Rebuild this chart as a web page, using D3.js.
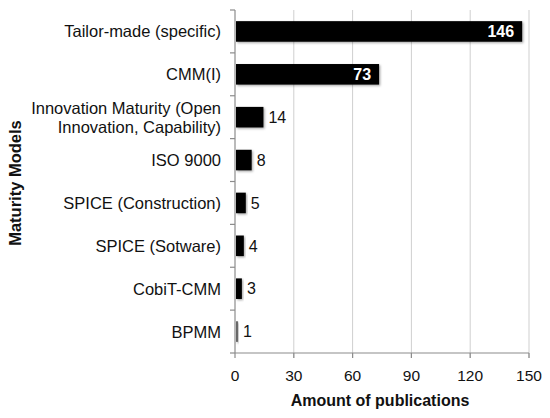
<!DOCTYPE html>
<html><head><meta charset="utf-8">
<script src="https://cdn.jsdelivr.net/npm/d3@7"></script>
<style>body{margin:0;background:#fff}svg{display:block;font-family:"Liberation Sans",Arial,sans-serif}</style>
</head><body>
<svg id="c" width="550" height="418"></svg>
<script>
const categories = ["Tailor-made (specific)", "CMM(I)", "Innovation Maturity (Open Innovation, Capability)", "ISO 9000", "SPICE (Construction)", "SPICE (Sotware)", "CobiT-CMM", "BPMM"];
const labelLines = [["Tailor-made (specific)"], ["CMM(I)"], ["Innovation Maturity (Open", "Innovation, Capability)"], ["ISO 9000"], ["SPICE (Construction)"], ["SPICE (Sotware)"], ["CobiT-CMM"], ["BPMM"]];
const values = [146, 73, 14, 8, 5, 4, 3, 1];
const xTicks = [0, 30, 60, 90, 120, 150];

const svg = d3.select("#c");
const m = {l: 235, r: 21, t: 10, b: 65};
const W = 550, H = 418;
const x = d3.scaleLinear().domain([0, 150]).range([m.l, W - m.r]);
const y = d3.scaleBand().domain(categories).range([m.t, H - m.b]).paddingInner(0.52).paddingOuter(0.26);
const yEdges = d3.scaleLinear().domain([0, categories.length]).range([m.t, H - m.b]);

const defs = svg.append("defs");
const f = defs.append("filter").attr("id", "sh").attr("x", "-10%").attr("y", "-30%").attr("width", "130%").attr("height", "180%");
f.append("feDropShadow").attr("dx", 1.2).attr("dy", 1.2).attr("stdDeviation", 1).attr("flood-color", "#000").attr("flood-opacity", 0.35);

// gridlines
svg.append("g").selectAll("line").data(xTicks.slice(1)).join("line")
  .attr("x1", d => x(d)).attr("x2", d => x(d))
  .attr("y1", m.t).attr("y2", H - m.b + 5)
  .attr("stroke", "#cfcfcf").attr("stroke-width", 1);

// bars
svg.append("g").selectAll("rect").data(values).join("rect")
  .attr("x", x(0) + 1).attr("y", (d, i) => y(categories[i]))
  .attr("width", d => x(d) - x(0)).attr("height", y.bandwidth())
  .attr("fill", (d, i) => i === 7 ? "#666" : "#000")
  .attr("filter", "url(#sh)");

// value labels
svg.append("g").selectAll("text").data(values).join("text")
  .attr("x", d => d > 50 ? x(d) - 7 : x(d) + 6)
  .attr("y", (d, i) => y(categories[i]) + y.bandwidth() / 2)
  .attr("dy", "0.36em")
  .attr("text-anchor", d => d > 50 ? "end" : "start")
  .attr("font-size", 16)
  .attr("font-weight", d => d > 50 ? "bold" : "normal")
  .attr("fill", d => d > 50 ? "#fff" : "#111")
  .text(d => d);

// y axis line and ticks
const ax = svg.append("g").attr("stroke", "#8c8c8c").attr("stroke-width", 1.2);
ax.append("line").attr("x1", x(0)).attr("x2", x(0)).attr("y1", m.t).attr("y2", H - m.b);
ax.selectAll(".yt").data(d3.range(categories.length + 1)).join("line")
  .attr("x1", x(0) - 5).attr("x2", x(0)).attr("y1", d => yEdges(d)).attr("y2", d => yEdges(d));
// x axis
ax.append("line").attr("x1", x(0)).attr("x2", x(150)).attr("y1", H - m.b).attr("y2", H - m.b);
ax.selectAll(".xt").data(xTicks).join("line")
  .attr("x1", d => x(d)).attr("x2", d => x(d)).attr("y1", H - m.b).attr("y2", H - m.b + 5);

// category labels
const fs = 16.5;
const cl = svg.append("g").selectAll("text").data(labelLines).join("text")
  .attr("x", x(0) - 14)
  .attr("y", (d, i) => y(categories[i]) + y.bandwidth() / 2)
  .attr("text-anchor", "end").attr("font-size", fs).attr("fill", "#111");
cl.each(function(lines) {
  const t = d3.select(this);
  const lh = 19;
  lines.forEach((ln, j) => {
    t.append("tspan").attr("x", x(0) - 14)
      .attr("dy", j === 0 ? (0.36 * fs - (lines.length - 1) * lh / 2) : lh)
      .text(ln);
  });
});

// x tick labels
svg.append("g").selectAll("text").data(xTicks).join("text")
  .attr("x", d => x(d)).attr("y", H - m.b + 28)
  .attr("text-anchor", "middle").attr("font-size", 15.5).attr("fill", "#111")
  .text(d => d);

// axis titles
svg.append("text").attr("x", (x(0) + x(150)) / 2 - 2).attr("y", 406)
  .attr("text-anchor", "middle").attr("font-size", 16).attr("font-weight", "bold").attr("fill", "#111")
  .text("Amount of publications");
svg.append("text").attr("transform", `translate(21,183) rotate(-90)`)
  .attr("text-anchor", "middle").attr("font-size", 16.5).attr("font-weight", "bold").attr("fill", "#111")
  .text("Maturity Models");
</script>
</body></html>
